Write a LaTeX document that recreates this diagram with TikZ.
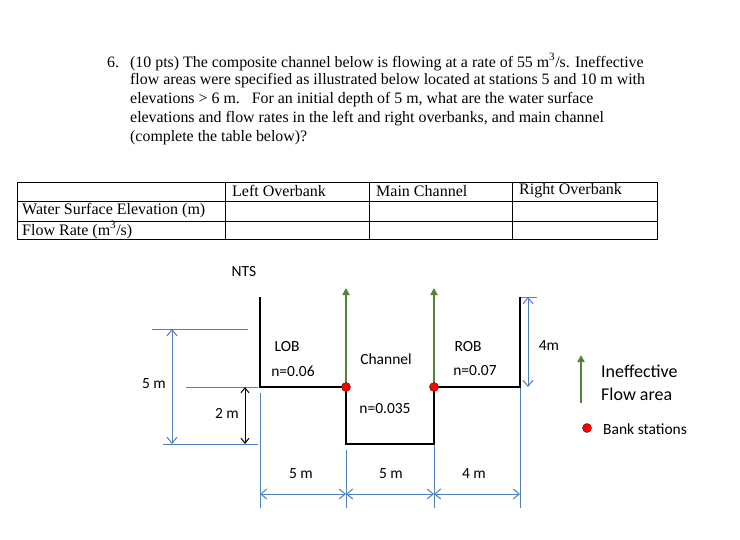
\documentclass[tikz,border=0pt]{standalone}
\usepackage{fontspec}
\setmainfont{Liberation Serif}
\newfontfamily\carlito{Carlito}
\usetikzlibrary{arrows.meta}
\definecolor{dimblue}{RGB}{79,129,189}
\definecolor{arrgreen}{RGB}{84,130,53}
\begin{document}
\begin{tikzpicture}[x=1pt,y=-1pt,
  q/.style={anchor=west,inner sep=0,font=\fontsize{15.9}{18}\selectfont},
  tb/.style={anchor=west,inner sep=0,font=\fontsize{16}{18}\selectfont},
  lbl/.style={inner sep=0,font=\carlito\fontsize{15.5}{18}\selectfont},
  wall/.style={line width=2pt,black},
  dim/.style={draw=dimblue,line width=1pt},
  dima/.style={dim,{Straight Barb[length=6pt,width=10pt]}-{Straight Barb[length=6pt,width=10pt]}},
  green/.style={draw=arrgreen,line width=2pt,-{Triangle[length=7pt,width=7pt]}},
  dot/.style={circle,fill=red,draw=black!60!red,inner sep=0,minimum size=9pt}]
\useasboundingbox[fill=white] (0,0) rectangle (740,539);
% question
\node[q] (n6) at (107,62) {6.};
\node[q] (l1) at (130,62) {(10 pts) The composite channel below is flowing at a rate of 55 m\textsuperscript{3}/s. Ineffective};
\node[q] (l2) at (130,81) {flow areas were specified as illustrated below located at stations 5 and 10 m with};
\node[q] (l3) at (130,100) {elevations > 6 m.\ \ \ For an initial depth of 5 m, what are the water surface};
\node[q] (l4) at (130,119) {elevations and flow rates in the left and right overbanks, and main channel};
\node[q] (l5) at (130,138) {(complete the table below)?};
% table
\draw[line width=1pt] (17,182) rectangle (657,239);
\draw[line width=0.8pt] (17,201) -- (657,201) (17,221) -- (657,221);
\draw[line width=0.8pt] (225,182) -- (225,239) (369,182) -- (369,239) (512,182) -- (512,239);
\node[tb] (h1) at (232,191) {Left Overbank};
\node[tb] (h2) at (376,191) {Main Channel};
\node[tb] (h3) at (519,191) {Right Overbank};
\node[tb] (r1) at (22,211) {Water Surface Elevation (m)};
\node[tb] (r2) at (22,230) {Flow Rate (m\textsuperscript{3}/s)};
% diagram
\node[lbl] (nts) at (244,272) {NTS};
\coordinate (lt) at (260,297); \coordinate (lbot) at (260,387);
\coordinate (bl) at (346,387); \coordinate (cl) at (346,444);
\coordinate (cr) at (434,444); \coordinate (br) at (434,387);
\coordinate (rb) at (520,387); \coordinate (rt) at (520,297);
\draw[dim] (152,329) -- (248,329) (186,387) -- (258,387) (163,444) -- (258,444);
\draw[dima] (172,329) -- (172,444);
\draw[line width=1pt,{Straight Barb[length=5pt,width=8pt]}-{Straight Barb[length=5pt,width=8pt]}] (245,387) -- (245,444);
\draw[dim] (260,393) -- (260,508) (346,450) -- (346,508) (434,444) -- (434,508) (520,387) -- (520,508) (520,297) -- (537,297);
\draw[dima] (528,297) -- (528,387);
\draw[dima] (260,494) -- (346,494);
\draw[dima] (346,494) -- (434,494);
\draw[dima] (434,494) -- (520,494);
\draw[wall,line join=miter] (lt) -- (lbot) -- (bl) -- (cl) -- (cr) -- (br) -- (rb) -- (rt);
\draw[green] (bl) -- (346,288);
\draw[green] (br) -- (434,288);
\node[dot] (d1) at (bl) {};
\node[dot] (d2) at (br) {};
\node[lbl] at (287,347) {LOB};
\node[lbl] at (293,371) {n=0.06};
\node[lbl] at (386,359) {Channel};
\node[lbl] at (385,409) {n=0.035};
\node[lbl] at (468,347) {ROB};
\node[lbl] at (475,371) {n=0.07};
\node[lbl] at (549,346) {4m};
\node[lbl] at (154,384) {5 m};
\node[lbl] at (227,413) {2 m};
\node[lbl] at (301,474) {5 m};
\node[lbl] at (391,474) {5 m};
\node[lbl] at (474,474) {4 m};
% legend
\coordinate (ga) at (581,403);
\draw[green] (ga) -- (581,355);
\node[lbl,anchor=west,font=\carlito\fontsize{18}{20}\selectfont] at (601,371) {Ineffective};
\node[lbl,anchor=west,font=\carlito\fontsize{18}{20}\selectfont] at (601,394) {Flow area};
\node[dot] (ld) at (587,428) {};
\node[lbl,anchor=west] at (603,429) {Bank stations};
\end{tikzpicture}
\end{document}
